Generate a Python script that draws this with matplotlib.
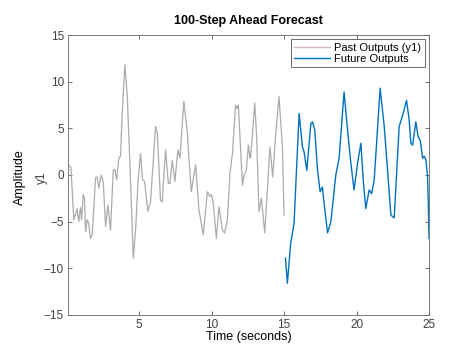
import matplotlib
matplotlib.use('Agg')
import matplotlib.pyplot as plt
from matplotlib.lines import Line2D

plt.rcParams['font.family'] = ['Liberation Sans', 'DejaVu Sans']

# past outputs (y1)
past_t = [0.1, 0.3, 0.5, 0.73, 0.84, 0.96, 1.03, 1.15, 1.24, 1.31, 1.42, 1.53, 1.65, 1.77,
          2.0, 2.11, 2.22, 2.39, 2.53, 2.69, 2.85, 3.03, 3.22, 3.33, 3.45, 3.6, 3.72, 3.84,
          4.02, 4.19, 4.41, 4.6, 4.76, 4.92, 5.1, 5.24, 5.38, 5.61, 5.79, 6.14, 6.26, 6.48,
          6.6, 6.83, 7.02, 7.13, 7.29, 7.47, 7.68, 7.82, 8.09, 8.33, 8.6, 8.9, 9.13, 9.43,
          9.71, 9.89, 9.99, 10.12, 10.33, 10.51, 10.75, 10.9, 11.09, 11.27, 11.44, 11.66,
          11.78, 11.85, 12.13, 12.24, 12.4, 12.54, 12.65, 12.7, 12.98, 13.11, 13.27, 13.44,
          13.67, 14.03, 14.22, 14.43, 14.65, 14.89, 15.0]
past_y = [1.1, 0.8, -4.8, -3.6, -5.0, -3.5, -4.8, -2.1, -2.5, -6.1, -4.8, -5.2, -6.8, -6.4,
          -0.3, -0.2, -1.4, 0.0, -0.7, -5.5, -3.2, -5.9, 0.5, 0.6, -0.5, 1.8, 2.0, 6.6,
          11.8, 8.4, -0.5, -8.9, -5.9, -0.9, 2.3, -0.5, -0.7, -3.9, -2.9, 5.2, 4.5, -2.7,
          -2.9, 2.7, -0.9, -0.9, 1.6, -0.7, 2.7, 1.8, 7.9, 4.5, -1.8, 1.1, -3.7, -6.4,
          -1.8, -2.3, -2.1, -3.0, -6.8, -3.4, -5.9, -6.2, -4.8, 0.2, 2.3, 7.5,
          7.1, 7.5, -1.1, 0.0, 0.5, 3.2, 1.8, 2.0, 7.7, 4.1, -3.9, -2.5,
          -6.2, 3.0, -0.2, 4.5, 8.4, 3.0, -4.3]

# 100-step forecast
fut_t = [15.1, 15.23, 15.46, 15.69, 16.04, 16.27, 16.38, 16.57, 16.85, 16.96, 17.12, 17.31,
         17.49, 17.65, 17.76, 18.0, 18.23, 18.57, 18.8, 19.14, 19.38, 19.61, 19.83, 20.07,
         20.3, 20.48, 20.64, 20.87, 21.04, 21.22, 21.63, 21.91, 22.14, 22.37, 22.6, 22.94,
         23.18, 23.45, 23.63, 23.75, 23.87, 24.09, 24.25, 24.39, 24.56, 24.67, 24.79, 24.9,
         24.95, 25.0]
fut_y = [-8.9, -11.6, -7.3, -5.2, 6.6, 3.0, 2.5, 0.5, 5.5, 5.7, 4.8, 0.5,
         -1.8, -1.3, -3.0, -6.2, -5.0, 0.0, 1.8, 8.9, 4.8, 1.25, -1.6, 1.25,
         3.4, -0.9, -3.6, -1.6, -2.0, -0.5, 9.3, 5.2, 0.5, -4.3, -4.6, 5.2,
         6.4, 8.0, 5.9, 3.4, 3.2, 5.7, 4.1, 3.75, 1.8, 2.0, 1.6, -0.2,
         -3.0, -6.8]

fig = plt.figure(figsize=(4.74, 3.55), dpi=100)
ax = fig.add_axes([0.1435, 0.1127, 0.7616, 0.7887])

ax.plot(past_t, past_y, color='#ababab', linewidth=0.9, solid_joinstyle='round')
ax.plot(fut_t, fut_y, color='#0072BD', linewidth=1.0, solid_joinstyle='round')

ax.set_xlim(0.1, 25)
ax.set_ylim(-15, 15)
ax.set_xticks([5, 10, 15, 20, 25])
ax.set_yticks([-15, -10, -5, 0, 5, 10, 15])
ax.tick_params(direction='in', top=True, right=True, length=3, width=0.6,
               labelsize=8.5, colors='#555555', labelcolor='#404040', pad=3)
for s in ax.spines.values():
    s.set_color('#666666')
    s.set_linewidth(0.6)

ax.set_title('100-Step Ahead Forecast', fontsize=9, fontweight='bold', pad=8)
ax.set_xlabel('Time (seconds)', fontsize=9, labelpad=0)
fig.text(0.043, 0.5, 'Amplitude', rotation=90, ha='center', va='center', fontsize=9)
fig.text(0.088, 0.5, 'y1', rotation=90, ha='center', va='center', fontsize=8.5, color='#404040')

handles = [Line2D([], [], color='#d9b3c4', linewidth=1.0),
           Line2D([], [], color='#0072BD', linewidth=1.0)]
leg = ax.legend(handles, ['Past Outputs (y1)', 'Future Outputs'], loc='upper right',
                fontsize=8, frameon=True, fancybox=False, borderpad=0.3,
                labelspacing=0.1, handlelength=3.2, handletextpad=0.4,
                borderaxespad=0.4)
leg.get_frame().set_edgecolor('#262626')
leg.get_frame().set_linewidth(0.6)

fig.savefig('out.png', dpi=100)
